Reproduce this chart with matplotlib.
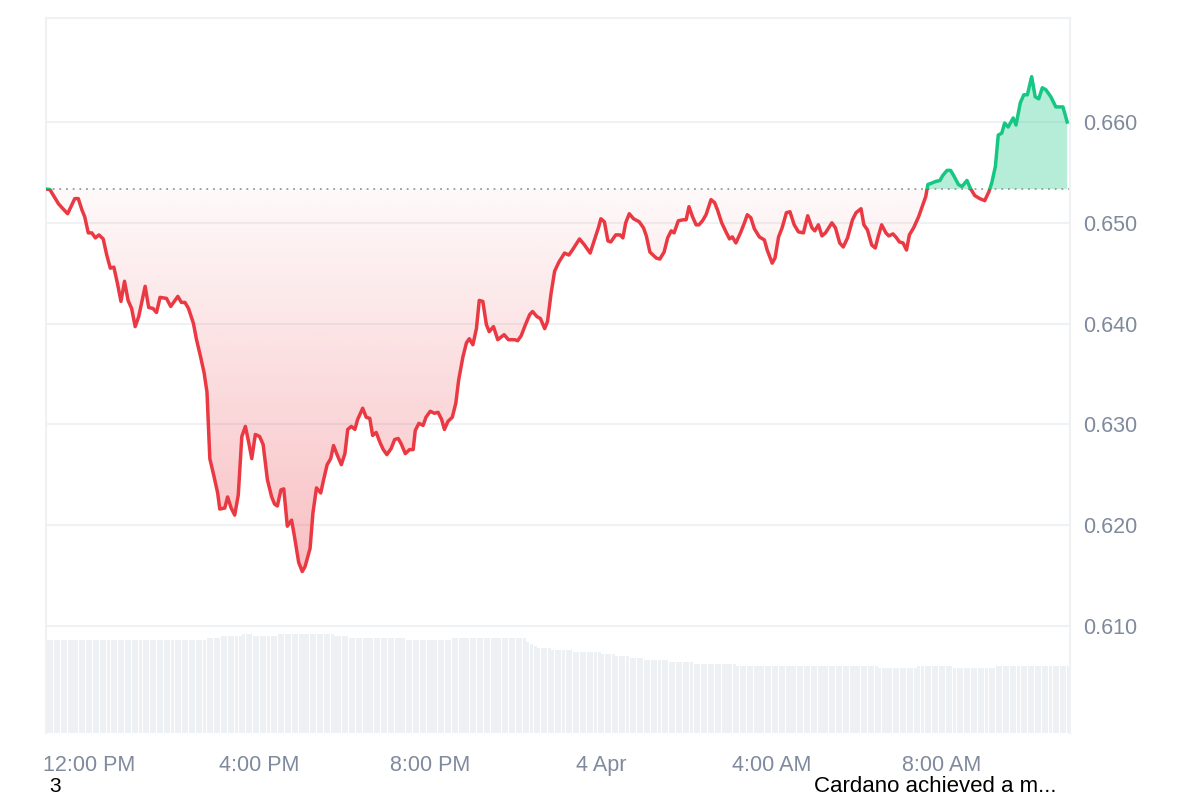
import matplotlib
matplotlib.use('Agg')
import matplotlib.pyplot as plt
import numpy as np
from matplotlib.patches import Rectangle
from matplotlib.path import Path

plt.rcParams['font.family'] = ['Liberation Sans', 'DejaVu Sans']

# minutes after 11:00 AM, 3 Apr
times = [
    0, 5, 17, 22, 30, 40, 45, 50, 54, 59,
    64, 69, 74, 80, 85, 90, 95, 100, 105, 110,
    115, 120, 125, 130, 139, 144, 150, 155, 160, 169,
    175, 185, 190, 195, 200, 207, 211, 217, 222, 226,
    230, 236, 241, 244, 251, 255, 260, 265, 270, 275,
    280, 285, 289, 294, 300, 305, 311, 317, 321, 325,
    330, 334, 339, 345, 349, 355, 360, 364, 371, 375,
    380, 386, 390, 395, 400, 404, 409, 415, 420, 424,
    429, 434, 438, 445, 450, 455, 459, 464, 470, 474,
    479, 485, 490, 495, 499, 505, 511, 516, 519, 524,
    530, 534, 540, 546, 551, 556, 560, 565, 571, 576,
    580, 586, 591, 595, 600, 605, 609, 614, 619, 623,
    629, 635, 644, 650, 659, 663, 668, 674, 680, 684,
    690, 695, 701, 705, 710, 715, 721, 729, 735, 740,
    750, 757, 765, 772, 777, 780, 785, 790, 794, 801,
    807, 811, 815, 820, 826, 834, 840, 844, 849, 858,
    863, 869, 874, 879, 883, 889, 896, 900, 904, 909,
    914, 918, 923, 928, 935, 940, 944, 950, 956, 961,
    965, 970, 977, 982, 986, 991, 996, 1003, 1010, 1014,
    1021, 1025, 1030, 1035, 1041, 1046, 1052, 1058, 1065, 1071,
    1077, 1081, 1086, 1091, 1096, 1105, 1110, 1116, 1121, 1127,
    1134, 1139, 1146, 1150, 1155, 1161, 1166, 1170, 1175, 1181,
    1185, 1191, 1196, 1200, 1205, 1210, 1214, 1220, 1227, 1232,
    1237, 1240, 1244, 1251, 1257, 1261, 1267, 1272, 1277, 1283,
    1288, 1295, 1300, 1306, 1313, 1320, 1326, 1330, 1335, 1339,
    1344, 1348, 1353, 1360, 1364, 1370, 1375, 1380, 1386, 1391,
    1396, 1401, 1406, 1413, 1420, 1430, 1436,
]

prices = [
    0.65335, 0.6533, 0.6519, 0.6515, 0.6509, 0.6524, 0.6524, 0.6513, 0.6506, 0.6490,
    0.6490, 0.6485, 0.6488, 0.6484, 0.6468, 0.6455, 0.6456, 0.6440, 0.6422, 0.6442,
    0.6423, 0.6415, 0.6397, 0.6407, 0.6437, 0.6416, 0.6415, 0.6411, 0.6426, 0.6425,
    0.6417, 0.6427, 0.6421, 0.6421, 0.6415, 0.6400, 0.6385, 0.6367, 0.6351, 0.6332,
    0.6266, 0.6248, 0.6232, 0.6216, 0.6217, 0.6228, 0.6217, 0.6210, 0.6230, 0.6288,
    0.6298, 0.6281, 0.6266, 0.6290, 0.6288, 0.6280, 0.6245, 0.6228, 0.6221, 0.6219,
    0.6235, 0.6236, 0.6199, 0.6205, 0.6189, 0.6163, 0.6154, 0.6159, 0.6177, 0.6212,
    0.6237, 0.6232, 0.6245, 0.6260, 0.6266, 0.6279, 0.6270, 0.6260, 0.6271, 0.6295,
    0.6298, 0.6295, 0.6305, 0.6316, 0.6307, 0.6306, 0.6289, 0.6292, 0.6281, 0.6275,
    0.6270, 0.6276, 0.6285, 0.6286, 0.6281, 0.6271, 0.6275, 0.6275, 0.6294, 0.6301,
    0.6299, 0.6307, 0.6313, 0.6311, 0.6312, 0.6305, 0.6295, 0.6303, 0.6307, 0.6321,
    0.6344, 0.6367, 0.6381, 0.6385, 0.6379, 0.6395, 0.6423, 0.6422, 0.6399, 0.6392,
    0.6397, 0.6384, 0.6389, 0.6384, 0.6384, 0.6383, 0.6388, 0.6399, 0.6409, 0.6412,
    0.6407, 0.6405, 0.6395, 0.6402, 0.6430, 0.6452, 0.6461, 0.6470, 0.6468, 0.6473,
    0.6484, 0.6478, 0.6470, 0.6485, 0.6496, 0.6504, 0.6501, 0.6482, 0.6481, 0.6488,
    0.6488, 0.6485, 0.6500, 0.6509, 0.6504, 0.6501, 0.6495, 0.6487, 0.6471, 0.6465,
    0.6464, 0.6471, 0.6485, 0.6492, 0.6490, 0.6502, 0.6503, 0.6503, 0.6516, 0.6506,
    0.6498, 0.6498, 0.6502, 0.6508, 0.6523, 0.6520, 0.6513, 0.6500, 0.6491, 0.6484,
    0.6486, 0.6480, 0.6491, 0.6500, 0.6508, 0.6505, 0.6494, 0.6486, 0.6483, 0.6473,
    0.6460, 0.6465, 0.6486, 0.6495, 0.6510, 0.6511, 0.6498, 0.6491, 0.6490, 0.6507,
    0.6495, 0.6492, 0.6498, 0.6487, 0.6490, 0.6500, 0.6495, 0.6480, 0.6476, 0.6485,
    0.6503, 0.6510, 0.6514, 0.6498, 0.6493, 0.6478, 0.6475, 0.6486, 0.6498, 0.6490,
    0.6487, 0.6489, 0.6485, 0.6481, 0.6480, 0.6473, 0.6488, 0.6495, 0.6506, 0.6516,
    0.6526, 0.6538, 0.6539, 0.6541, 0.6542, 0.6547, 0.6552, 0.6552, 0.6546, 0.6538,
    0.6536, 0.6542, 0.6534, 0.6527, 0.6524, 0.6522, 0.6531, 0.6540, 0.6556, 0.6587,
    0.6589, 0.6599, 0.6595, 0.6604, 0.6597, 0.6619, 0.6627, 0.6627, 0.6645, 0.6625,
    0.6623, 0.6634, 0.6632, 0.6625, 0.6615, 0.6615, 0.6600,
]

# 24h volume (millions USD), one bar per 5 minutes, rows = hours
volume = [
    698, 698, 698, 698, 698, 698, 698, 698, 698, 698, 698, 698,
    698, 698, 698, 698, 698, 698, 698, 698, 698, 698, 698, 698,
    698, 698, 698, 698, 698, 698, 698, 698, 698, 698, 698, 698,
    698, 698, 698, 698, 698, 698, 698, 698, 698, 713, 713, 713,
    713, 728, 728, 728, 728, 728, 728, 743, 743, 743, 728, 728,
    728, 728, 728, 728, 728, 743, 743, 743, 743, 743, 743, 743,
    743, 743, 743, 743, 743, 743, 743, 743, 743, 728, 728, 728,
    728, 713, 713, 713, 713, 713, 713, 713, 713, 713, 713, 713,
    713, 713, 713, 713, 713, 698, 698, 698, 698, 698, 698, 698,
    698, 698, 698, 698, 698, 698, 713, 713, 713, 713, 713, 713,
    713, 713, 713, 713, 713, 713, 713, 713, 713, 713, 713, 713,
    713, 713, 713, 683, 668, 653, 638, 638, 638, 638, 623, 623,
    623, 623, 623, 623, 608, 608, 608, 608, 608, 608, 608, 608,
    593, 593, 593, 593, 578, 578, 578, 578, 563, 563, 563, 563,
    548, 548, 548, 548, 548, 548, 548, 533, 533, 533, 533, 533,
    533, 533, 518, 518, 518, 518, 518, 518, 518, 518, 518, 518,
    518, 518, 503, 503, 503, 503, 503, 503, 503, 503, 503, 503,
    503, 503, 503, 503, 503, 503, 503, 503, 503, 503, 503, 503,
    503, 503, 503, 503, 503, 503, 503, 503, 503, 503, 503, 503,
    503, 503, 503, 503, 503, 503, 488, 488, 488, 488, 488, 488,
    488, 488, 488, 488, 488, 503, 503, 503, 503, 503, 503, 503,
    503, 503, 503, 488, 488, 488, 488, 488, 488, 488, 488, 488,
    488, 488, 488, 503, 503, 503, 503, 503, 503, 503, 503, 503,
    503, 503, 503, 503, 503, 503, 503, 503, 503, 503, 503, 503,
]

tick_pos = [60, 300, 540, 780, 1020, 1260]
tick_labels = ['12:00 PM', '4:00 PM', '8:00 PM', '4 Apr', '4:00 AM', '8:00 AM']
price_ticks = [0.610, 0.620, 0.630, 0.640, 0.650, 0.660]

RED = '#ea3943'
GREEN = '#16c784'
GRID = '#eff2f5'
LABEL = '#808a9d'
YMIN, YMAX = 0.59938, 0.67032

fig = plt.figure(figsize=(12, 8), dpi=100)
axv = fig.add_axes([0.0386, 0.08375, 0.8531, 0.89375])
ax = axv.twinx()

# volume bars
bar_t = np.arange(len(volume)) * 5 + 2.5
axv.bar(bar_t, volume, width=4.3, color='#eef1f4', linewidth=0)
axv.set_ylim(0, 5362.5)
axv.set_xlim(0, 1440)
axv.set_yticks([])
axv.set_xticks(tick_pos, tick_labels)
axv.tick_params(axis='x', length=0, pad=16, labelsize=15.5, labelcolor=LABEL)
for s in axv.spines.values():
    s.set_visible(False)

t = np.array(times)
p = np.array(prices)
base = prices[0]

ax.set_xlim(0, 1440)
ax.set_ylim(YMIN, YMAX)

# red area with vertical gradient
red_fill = ax.fill_between(t, p, base, where=p <= base, interpolate=True,
                           color='none', linewidth=0)
grad = np.zeros((256, 1, 4))
grad[:, 0, :3] = matplotlib.colors.to_rgb(RED)
grad[:, 0, 3] = np.linspace(0.32, 0.03, 256)
img = ax.imshow(grad, extent=[0, 1440, p.min(), base], origin='lower',
                aspect='auto', zorder=1.6, interpolation='bilinear')
clip = Path.make_compound_path(*red_fill.get_paths())
img.set_clip_path(clip, transform=ax.transData)

# green area
ax.fill_between(t, p, base, where=p >= base, interpolate=True,
                color=GREEN, alpha=0.31, linewidth=0, zorder=1.6)

# price line, red below the open, green above
lr, = ax.plot(t, p, color=RED, lw=2.5, solid_joinstyle='round', zorder=3)
lr.set_clip_path(Rectangle((0, YMIN), 1440, base - YMIN, transform=ax.transData))
lg, = ax.plot(t, p, color=GREEN, lw=2.5, solid_joinstyle='round', zorder=3)
lg.set_clip_path(Rectangle((0, base), 1440, YMAX - base, transform=ax.transData))

ax.axhline(base, color='#999999', lw=1.3, ls=(0, (1, 2.7)), zorder=2.5)

ax.set_yticks(price_ticks, [f'{v:.3f}' for v in price_ticks])
ax.tick_params(axis='y', length=0, pad=9.5, labelsize=15.5, labelcolor=LABEL)
ax.grid(axis='y', color=GRID, lw=1.5)
ax.spines['bottom'].set_visible(False)
for side in ['top', 'left', 'right']:
    ax.spines[side].set_color(GRID)
    ax.spines[side].set_linewidth(1.5)

fig.text(55 / 1200, 1 - 787 / 800, '3', ha='center', va='center', fontsize=15, color='black')
fig.text(1057 / 1200, 1 - 787 / 800, 'Cardano achieved a m...', ha='right', va='center',
         fontsize=16, color='black')

fig.savefig('out.png', dpi=100)
